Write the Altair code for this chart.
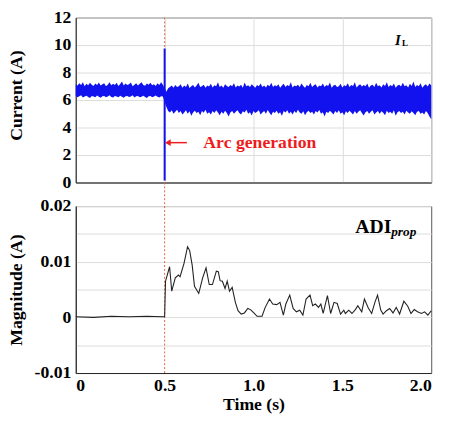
import altair as alt
import pandas as pd

FONT = "Liberation Serif"

# ---- Inductor current I_L : band envelope ----
t_pre = [round(0.01 * i, 2) for i in range(50)]          # 0.00 .. 0.49 s
upper_pre = [7.15, 7.05, 7.22, 7.1, 7.3, 7.0, 7.18, 7.08, 7.25, 7.12,
             7.02, 7.2, 7.1, 7.28, 7.05, 7.15, 7.22, 7.0, 7.12, 7.3,
             7.08, 7.18, 7.1, 7.25, 7.02, 7.16, 7.35, 7.05, 7.2, 7.1,
             7.15, 7.28, 7.0, 7.12, 7.22, 7.06, 7.18, 7.3, 7.1, 7.04,
             7.2, 7.12, 7.26, 7.08, 7.15, 7.02, 7.22, 7.1, 7.3, 7.12]
lower_pre = [6.3, 6.2, 6.28, 6.35, 6.18, 6.25, 6.32, 6.22, 6.15, 6.3,
             6.26, 6.2, 6.33, 6.24, 6.17, 6.28, 6.3, 6.2, 6.25, 6.35,
             6.22, 6.18, 6.3, 6.26, 6.2, 6.32, 6.24, 6.16, 6.28, 6.3,
             6.22, 6.25, 6.34, 6.18, 6.27, 6.3, 6.2, 6.24, 6.32, 6.22,
             6.15, 6.28, 6.3, 6.2, 6.26, 6.33, 6.23, 6.18, 6.28, 6.25]

t_post = [round(0.51 + 0.01 * i, 2) for i in range(150)]  # 0.51 .. 2.00 s
upper_post = [6.6, 6.85, 6.95, 7.05, 6.9, 7.1, 6.95, 7.0, 7.15, 6.9,
              7.05, 6.95, 7.2, 6.88, 7.0, 7.1, 6.92, 7.05, 7.25, 6.95,
              7.0, 7.12, 6.9, 7.05, 6.98, 7.18, 6.92, 7.08, 7.0, 7.3,
              6.95, 7.05, 6.9, 7.15, 7.02, 6.95, 7.1, 7.0, 7.22, 6.92,
              7.05, 6.98, 7.12, 6.9, 7.28, 7.0, 7.08, 6.95, 7.15, 7.02,
              6.9, 7.1, 7.0, 7.2, 6.95, 7.05, 6.92, 7.12, 7.0, 7.25,
              6.95, 7.08, 7.0, 7.15, 6.9, 7.05, 7.18, 6.95, 7.1, 7.0,
              7.3, 6.92, 7.05, 7.0, 7.12, 6.95, 7.2, 7.02, 6.9, 7.1,
              7.0, 7.25, 6.95, 7.08, 7.15, 6.92, 7.05, 7.0, 7.2, 6.95,
              7.1, 7.02, 7.28, 6.9, 7.05, 7.12, 6.95, 7.0, 7.18, 6.92,
              7.08, 7.0, 7.22, 6.95, 7.1, 7.02, 7.3, 6.92, 7.05, 7.15,
              6.98, 7.1, 7.0, 7.2, 6.9, 7.05, 7.12, 6.95, 7.25, 7.0,
              7.08, 6.92, 7.15, 7.02, 7.3, 6.95, 7.1, 7.0, 7.2, 6.9,
              7.05, 7.12, 6.98, 7.25, 7.0, 7.08, 6.92, 7.18, 7.02, 7.35,
              6.95, 7.1, 7.0, 7.22, 6.9, 7.05, 7.15, 6.98, 7.2, 7.05]
lower_post = [5.5, 5.2, 5.1, 5.25, 5.0, 5.15, 5.3, 5.05, 5.2, 4.95,
              5.1, 5.25, 5.0, 5.18, 4.85, 5.1, 5.22, 5.05, 5.15, 4.9,
              5.2, 5.08, 5.3, 5.0, 5.12, 4.95, 5.2, 5.05, 5.25, 5.1,
              4.9, 5.15, 5.0, 5.22, 5.05, 4.8, 5.1, 5.2, 5.0, 5.15,
              5.25, 5.05, 4.95, 5.18, 5.1, 5.3, 5.0, 5.12, 4.88, 5.2,
              5.05, 5.15, 5.25, 4.95, 5.1, 5.2, 5.0, 5.28, 5.08, 4.9,
              5.15, 5.05, 5.22, 5.0, 5.12, 4.85, 5.2, 5.1, 5.25, 5.0,
              5.15, 4.95, 5.2, 5.05, 5.3, 5.1, 5.0, 5.18, 4.9, 5.12,
              5.22, 5.05, 5.15, 4.95, 5.2, 5.1, 5.28, 5.0, 5.12, 4.8,
              5.15, 5.05, 5.22, 5.1, 4.95, 5.2, 5.05, 5.25, 5.0, 5.12,
              4.9, 5.18, 5.05, 5.22, 5.1, 4.95, 5.2, 5.0, 5.15, 5.25,
              5.05, 4.88, 5.12, 5.2, 5.0, 5.15, 5.25, 4.95, 5.1, 5.2,
              5.0, 5.18, 5.08, 4.9, 5.22, 5.05, 5.15, 5.0, 5.25, 4.85,
              5.12, 5.2, 5.05, 5.15, 4.95, 5.22, 5.1, 5.0, 5.18, 5.05,
              4.9, 5.15, 5.2, 5.0, 5.1, 4.95, 5.2, 5.05, 4.8, 4.6]

spike_t = [0.5]
spike_lo = [0.15]
spike_hi = [9.75]

# ---- ADI_prop magnitude ----
adi_t = [0, 0.1, 0.2, 0.3, 0.4, 0.49, 0.5, 0.505,
         0.528, 0.54, 0.56, 0.578, 0.587, 0.609, 0.629, 0.641, 0.655, 0.668,
         0.692, 0.714, 0.733, 0.751, 0.769, 0.791, 0.802, 0.812, 0.825, 0.840,
         0.852, 0.865, 0.880, 0.898, 0.913, 0.931, 0.949, 0.968, 0.983, 1.002,
         1.020, 1.048, 1.066, 1.090, 1.108, 1.131, 1.149, 1.168, 1.182, 1.204,
         1.223, 1.241, 1.260, 1.278, 1.296, 1.318, 1.333, 1.348, 1.366, 1.379,
         1.392, 1.416, 1.434, 1.453, 1.471, 1.490, 1.508, 1.517, 1.536, 1.554,
         1.573, 1.587, 1.609, 1.624, 1.646, 1.665, 1.683, 1.698, 1.716, 1.729,
         1.748, 1.766, 1.785, 1.803, 1.822, 1.846, 1.868, 1.886, 1.904, 1.923,
         1.945, 1.963, 1.981, 2.0]
adi_v = [0.0001, 0.0, 0.0002, 0.0001, 0.0002, 0.0001, 0.0001, 0.0065,
         0.0091, 0.0047, 0.0071, 0.0076, 0.0073, 0.0097, 0.0127, 0.0120, 0.0094, 0.0056,
         0.0043, 0.0071, 0.0089, 0.0059, 0.0059, 0.0083, 0.0082, 0.0066, 0.0065, 0.0052,
         0.0065, 0.0047, 0.0054, 0.0027, 0.0012, 0.0006, 0.0008, 0.0016, 0.0014, 0.0008,
         0.0002, 0.0002, 0.0018, 0.0033, 0.0024, 0.0023, 0.0027, 0.0004, 0.0024, 0.0040,
         0.0016, 0.0010, 0.0013, 0.0004, 0.0033, 0.0040, 0.0021, 0.0024, 0.0018, 0.0024,
         0.0007, 0.0039, 0.0007, 0.0027, 0.0025, 0.0006, 0.0013, 0.0007, 0.0013, 0.0007,
         0.0014, 0.0021, 0.0010, 0.0033, 0.0017, 0.0007, 0.0027, 0.0040, 0.0013, 0.0006,
         0.0012, 0.0016, 0.0008, 0.0018, 0.0006, 0.0029, 0.0020, 0.0007, 0.0014, 0.0010,
         0.0007, 0.0010, 0.0004, 0.0012]

# ---- ticks ----
cur_ticks = [0, 2, 4, 6, 8, 10, 12]
adi_ticks = [-0.01, -0.005, 0, 0.005, 0.01, 0.015, 0.02]
adi_tick_labels = ["-0.01", "", "0", "", "0.01", "", "0.02"]
time_ticks = [0, 0.5, 1.0, 1.5, 2.0]
time_tick_labels = ["0", "0.5", "1.0", "1.5", "2.0"]


def label_expr(values, labels):
    expr = "''"
    for v, l in zip(values, labels):
        expr = f"abs(datum.value - ({v})) < 1e-9 ? '{l}' : ({expr})"
    return expr


BLUE = "#1212ee"
RED = "#ee1c1c"
TOP_H, BOT_H, W, GAP = 168, 170, 362, 24
PAD_TOP, PAD_LEFT, PAD_RIGHT = 6, 69, 13
# autosize "none" on a concat leaves the view height at 0, so the bottom
# padding carries the whole stacked height plus room for the x-axis texts
PAD_BOTTOM = TOP_H + GAP + BOT_H + 38

cur_df = pd.DataFrame({"t": t_pre + t_post, "lo": lower_pre + lower_post,
                       "hi": upper_pre + upper_post})
spike_df = pd.DataFrame({"t": spike_t, "lo": spike_lo, "hi": spike_hi})
adi_df = pd.DataFrame({"t": adi_t, "v": adi_v})
one = pd.DataFrame({"k": [0]})

xscale = alt.Scale(domain=[0, 2], nice=False, zero=False)

# ---------------- top panel ----------------
band = alt.Chart(cur_df).mark_area(color=BLUE, opacity=1).encode(
    x=alt.X("t:Q", scale=xscale,
            axis=alt.Axis(values=time_ticks, tickCount=50, labels=False, ticks=False,
                          title=None)),
    y=alt.Y("lo:Q", scale=alt.Scale(domain=[0, 12], nice=False),
            axis=alt.Axis(values=cur_ticks, tickCount=50, format="d", title="Current (A)",
                          titleX=-55, titleY=79, titleBaseline="alphabetic",
                          labelOverlap=False)),
    y2="hi:Q",
)
red_top = alt.Chart(one).mark_rule(color="#e5603a", strokeDash=[2, 2], strokeWidth=1).encode(
    x=alt.datum(0.5), y=alt.value(0), y2=alt.value(TOP_H))
spike = alt.Chart(spike_df).mark_rule(color=BLUE, strokeWidth=2).encode(
    x="t:Q", y="lo:Q", y2="hi:Q")
arrow_line = alt.Chart(one).mark_rule(color=RED, strokeWidth=1.5).encode(
    x=alt.datum(0.525), x2=alt.datum(0.625), y=alt.datum(2.9))
arrow_head = alt.Chart(one).mark_point(shape="triangle-left", filled=True, color=RED,
                                       size=45, opacity=1).encode(
    x=alt.datum(0.518), y=alt.datum(2.9))
arc_text = alt.Chart(one).mark_text(text="Arc generation", font=FONT, fontSize=18,
                                    fontWeight="bold", color=RED, align="left",
                                    baseline="middle").encode(
    x=alt.datum(0.718), y=alt.datum(2.85))
il_I = alt.Chart(one).mark_text(text="I", font=FONT, fontSize=15, fontWeight="bold",
                                fontStyle="italic", color="black", align="left",
                                baseline="alphabetic").encode(
    x=alt.datum(1.796), y=alt.datum(10.0))
il_L = alt.Chart(one).mark_text(text="L", font=FONT, fontSize=9, fontWeight="bold",
                                color="black", align="left", baseline="alphabetic").encode(
    x=alt.datum(1.835), y=alt.datum(9.95))

top = alt.layer(band, red_top, spike, arrow_line, arrow_head, arc_text, il_I, il_L).properties(
    width=W, height=TOP_H)

# ---------------- bottom panel ----------------
adi_line = alt.Chart(adi_df).mark_line(color="#222222", strokeWidth=1.1).encode(
    x=alt.X("t:Q", scale=xscale,
            axis=alt.Axis(values=time_ticks, tickCount=50,
                          labelExpr=label_expr(time_ticks, time_tick_labels),
                          title="Time (s)", labelPadding=4, titleY=37,
                          titleBaseline="alphabetic")),
    y=alt.Y("v:Q", scale=alt.Scale(domain=[-0.01, 0.02], nice=False, zero=False),
            axis=alt.Axis(values=adi_ticks, tickCount=50,
                          labelExpr=label_expr(adi_ticks, adi_tick_labels),
                          title="Magnitude (A)", titleX=-55, titleBaseline="alphabetic",
                          labelOverlap=False)),
)
red_bot = alt.Chart(one).mark_rule(color="#e5603a", strokeDash=[2, 2], strokeWidth=1).encode(
    x=alt.datum(0.5), y=alt.value(-GAP), y2=alt.value(BOT_H))
adi_A = alt.Chart(one).mark_text(text="ADI", font=FONT, fontSize=20, fontWeight="bold",
                                 color="black", align="left", baseline="alphabetic").encode(
    x=alt.datum(1.573), y=alt.datum(0.0152))
adi_sub = alt.Chart(one).mark_text(text="prop", font=FONT, fontSize=13.5, fontWeight="bold",
                                   fontStyle="italic", color="black", align="left",
                                   baseline="alphabetic").encode(
    x=alt.datum(1.775), y=alt.datum(0.0146))

bottom = alt.layer(red_bot, adi_line, adi_A, adi_sub).properties(width=W, height=BOT_H)

chart = alt.vconcat(top, bottom, spacing=GAP, bounds="flush").resolve_scale(
    y="independent"
).properties(
    autosize=alt.AutoSizeParams(type="none"),
    padding={"left": PAD_LEFT, "top": PAD_TOP, "right": PAD_RIGHT, "bottom": PAD_BOTTOM},
).configure_view(
    stroke="#555555", strokeWidth=1
).configure_axis(
    labelFont=FONT, labelFontSize=18, labelFontWeight="bold", labelColor="black",
    titleFont=FONT, titleFontSize=18, titleFontWeight="bold", titleColor="black",
    gridColor="#dcdcdc", gridWidth=1, domainColor="#222222", ticks=False,
    labelPadding=5, labelOverlap=False,
)

chart.save("out.html", embed_options={"renderer": "svg", "actions": False})
